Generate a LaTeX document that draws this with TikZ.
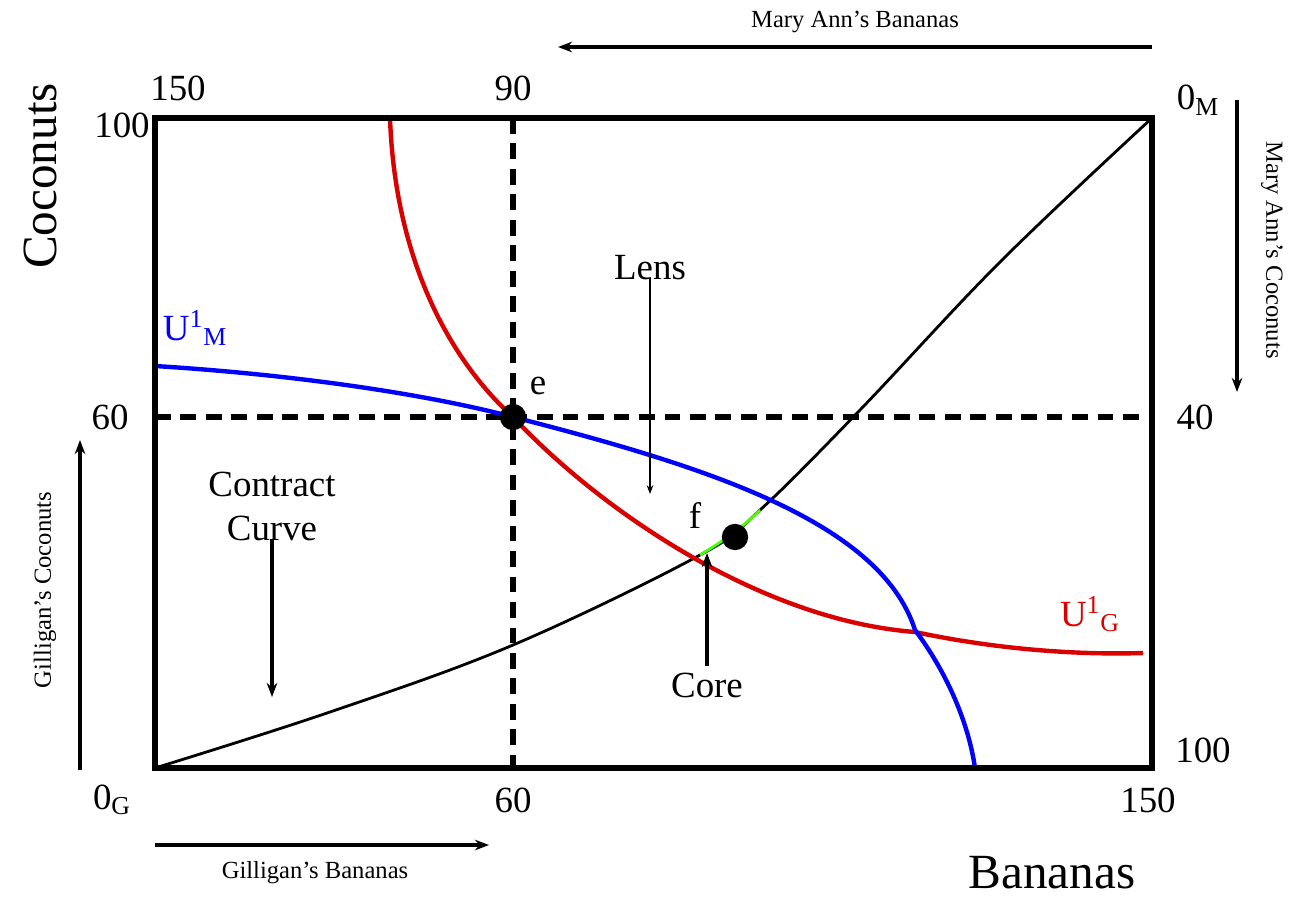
\documentclass[tikz,border=0pt]{standalone}
\usepackage{fontspec}
\setmainfont{Liberation Serif}
\usetikzlibrary{arrows.meta}
\tikzset{
    num/.style={font=\fontsize{21}{24}\selectfont},
    big/.style={font=\fontsize{28}{32}\selectfont},
    small/.style={font=\fontsize{14}{16}\selectfont},
    lbl/.style={font=\fontsize{21}{25}\selectfont, align=center},
    dot/.style={circle, fill=black, inner sep=0pt, minimum size=15pt},
    guide/.style={-{Stealth[length=8pt]}, line width=1.8pt},
    endow/.style={line width=3pt, dash pattern=on 9pt off 5.5pt},
}
\begin{document}
\begin{tikzpicture}[x=0.02cm, y=-0.02cm]
        \useasboundingbox (0,0) rectangle (1300,910);
        % box and dashed endowment lines
        \coordinate (OG) at (155,768);
        \coordinate (OM) at (1152,118);
        \draw[endow] (513,118) -- (513,768);
        \draw[endow] (155,417) -- (1152,417);

        % contract curve
        \draw[line width=1.6pt] plot[smooth, tension=0.6] coordinates {(OG) (330,712) (513,645) (700,555) (760,510) (860,410) (1000,262) (OM)};
        \draw[green!70!yellow, line width=1.6pt] (700,555) .. controls (725,540) and (745,525) .. (760,510);

        % indifference curves
        \draw[red!85!black, line width=2.5pt] (390,118) .. controls (395,260) and (450,360) .. (513,417)
            .. controls (600,510) and (760,620) .. (915,632) .. controls (1000,650) and (1080,655) .. (1143,653);
        \draw[blue, line width=2.5pt] (155,366) .. controls (300,375) and (430,395) .. (513,417)
            .. controls (700,465) and (880,520) .. (915,630) .. controls (945,670) and (968,720) .. (975,768);

        \draw[line width=3.5pt] (155,118) rectangle (1152,768);

        \node[dot] (e) at (513,417) {};
        \node[dot] (f) at (735,537) {};
        \node[num] (elbl) at (538,386) {e};
        \node[num] (flbl) at (695,515) {f};

        % axis numbers
        \node[num] (t150) at (178,88) {150};
        \node[num] (t90) at (513,88) {90};
        \node[num] (tOM) at (1198,100) {0\textsubscript{M}};
        \node[num] (l100) at (122,125) {100};
        \node[num] (l60) at (110,417) {60};
        \node[num] (r40) at (1195,417) {40};
        \node[num] (r100) at (1203,750) {100};
        \node[num] (bOG) at (112,800) {0\textsubscript{G}};
        \node[num] (b60) at (513,800) {60};
        \node[num] (b150) at (1148,800) {150};
        \node[big, rotate=90] (coco) at (40,176) {Coconuts};
        \node[big] (bana) at (1052,873) {Bananas};

        % owner axes
        \node[small] (mab) at (855,22) {Mary Ann’s Bananas};
        \coordinate (mab1) at (1152,47);
        \coordinate (mab2) at (558,47);
        \draw[guide] (mab1) -- (mab2);
        \node[small, rotate=-90] (mac) at (1272,250) {Mary Ann’s Coconuts};
        \coordinate (mac1) at (1237,100);
        \coordinate (mac2) at (1237,392);
        \draw[guide] (mac1) -- (mac2);
        \node[small, rotate=90] (gc) at (45,590) {Gilligan’s Coconuts};
        \coordinate (gc1) at (80,770);
        \coordinate (gc2) at (80,440);
        \draw[guide] (gc1) -- (gc2);
        \node[small] (gb) at (315,873) {Gilligan’s Bananas};
        \coordinate (gb1) at (155,845);
        \coordinate (gb2) at (489,845);
        \draw[guide] (gb1) -- (gb2);

        % curve labels
        \node[num, text=blue] (UM) at (195,328) {U\textsuperscript{1}\textsubscript{M}};
        \node[num, text=red!85!black] (UG) at (1090,614) {U\textsuperscript{1}\textsubscript{G}};
        \node[lbl] (lens) at (650,268) {Lens};
        \coordinate (lensend) at (650,494);
        \draw[-{Stealth[length=5pt]}, line width=0.6pt] (lens.south) ++(0,-8) -- (lensend);
        \node[lbl] (cc) at (272,506) {Contract\\Curve};
        \coordinate (ccend) at (272,697);
        \draw[guide] (cc.south) ++(0,-8) -- (ccend);
        \node[lbl] (core) at (707,685) {Core};
        \coordinate (coreend) at (707,553);
        \draw[guide] (core.north) -- (coreend);
\end{tikzpicture}
\end{document}
